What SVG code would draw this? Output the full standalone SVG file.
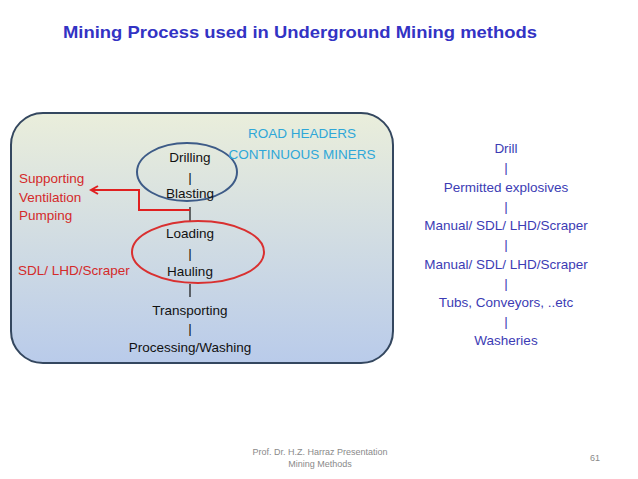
<svg xmlns="http://www.w3.org/2000/svg" width="638" height="479" viewBox="0 0 638 479">
<defs>
<linearGradient id="bg" x1="0" y1="0" x2="0" y2="1">
<stop offset="0" stop-color="#eaeedb"/>
<stop offset="1" stop-color="#b9cbea"/>
</linearGradient>
<marker id="ah" markerWidth="10" markerHeight="10" refX="8" refY="5" orient="auto" markerUnits="userSpaceOnUse">
<path d="M1,1 L8,5 L1,9" fill="none" stroke="#e02020" stroke-width="2"/>
</marker>
<style>
text{font-family:"Liberation Sans",Arial,sans-serif;font-size:13.5px}
.k{fill:#111;text-anchor:middle}
.r{fill:#d42a2a}
.c{fill:#2fa7d8;text-anchor:middle}
.b{fill:#3c3cb4;text-anchor:middle}
.f{fill:#8a8a8a;font-size:9px;text-anchor:middle}
.sep{stroke:#111;stroke-width:1.2}
</style>
</defs>
<rect width="638" height="479" fill="#fff"/>
<text x="300" y="38" style="font-size:17px;font-weight:bold;fill:#3333c4;text-anchor:middle" textLength="474" lengthAdjust="spacingAndGlyphs">Mining Process used in Underground Mining methods</text>
<g id="panel"><rect x="11" y="113" width="382" height="250" rx="32" fill="url(#bg)" stroke="#34475f" stroke-width="2"/></g>
<g id="connectors">
<line class="sep" x1="190" y1="207" x2="190" y2="221"/>
<line class="sep" x1="190" y1="284" x2="190" y2="297"/>
<polyline points="190,210 139,210 139,190 91,190" fill="none" stroke="#e02020" stroke-width="2" marker-end="url(#ah)"/>
</g>
<g id="ellipse-blue"><ellipse cx="187" cy="172" rx="50" ry="29" fill="none" stroke="#3d5b87" stroke-width="2"/></g>
<g id="ellipse-red"><ellipse cx="198" cy="252" rx="66" ry="31" fill="none" stroke="#d93030" stroke-width="2"/></g>
<g id="process">
<text class="k" x="190" y="162">Drilling</text>
<text class="k" x="190" y="182">|</text>
<text class="k" x="190" y="198">Blasting</text>
<text class="k" x="190" y="238">Loading</text>
<text class="k" x="190" y="258">|</text>
<text class="k" x="190" y="276">Hauling</text>
<text class="k" x="190" y="315">Transporting</text>
<text class="k" x="190" y="333">|</text>
<text class="k" x="190" y="352">Processing/Washing</text>
</g>
<g id="red-notes">
<text class="r" x="19" y="183">Supporting</text>
<text class="r" x="19" y="202">Ventilation</text>
<text class="r" x="19" y="220">Pumping</text>
<text class="r" x="18" y="275">SDL/ LHD/Scraper</text>
</g>
<g id="road-headers">
<text class="c" x="302" y="138">ROAD HEADERS</text>
<text class="c" x="302" y="159">CONTINUOUS MINERS</text>
</g>
<g id="equipment">
<text class="b" x="506" y="153">Drill</text>
<text class="b" x="506" y="172">|</text>
<text class="b" x="506" y="192">Permitted explosives</text>
<text class="b" x="506" y="211">|</text>
<text class="b" x="506" y="230">Manual/ SDL/ LHD/Scraper</text>
<text class="b" x="506" y="249">|</text>
<text class="b" x="506" y="269">Manual/ SDL/ LHD/Scraper</text>
<text class="b" x="506" y="288">|</text>
<text class="b" x="506" y="307">Tubs, Conveyors, ..etc</text>
<text class="b" x="506" y="326">|</text>
<text class="b" x="506" y="345">Washeries</text>
</g>
<g id="footer">
<text class="f" x="320" y="455">Prof. Dr. H.Z. Harraz Presentation</text>
<text class="f" x="320" y="467">Mining Methods</text>
<text class="f" x="595" y="461">61</text>
</g>
</svg>
